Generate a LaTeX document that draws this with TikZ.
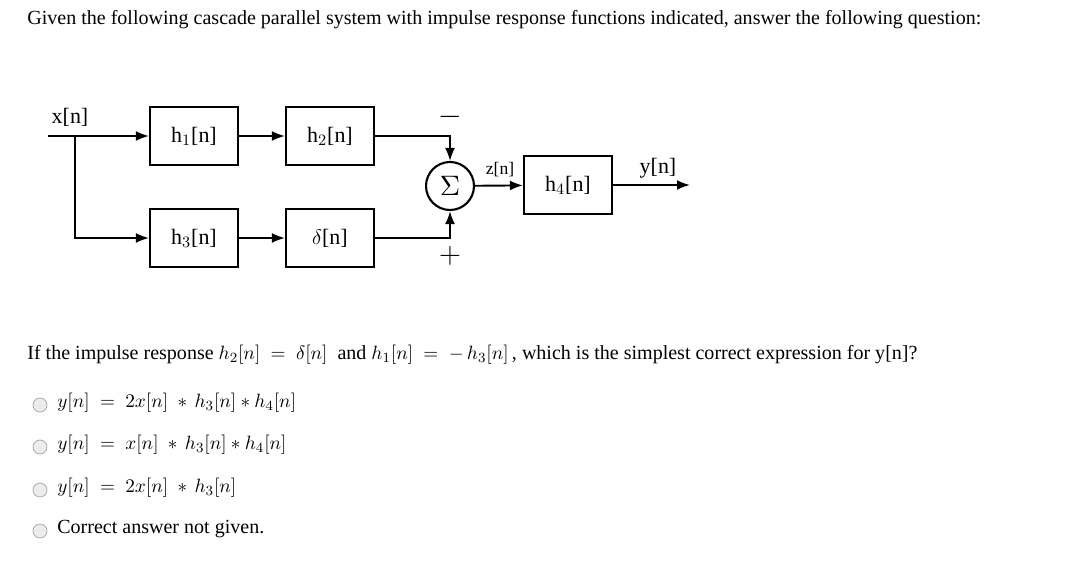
\documentclass[tikz,border=0pt]{standalone}
\usepackage{fontspec}
\setmainfont{Liberation Serif}
\usepackage{tikz}
\usetikzlibrary{arrows.meta,positioning}
\tikzset{
  blk/.style={draw, line width=1.2pt, minimum width=1.76cm, minimum height=1.16cm, font=\fontsize{12.5}{14}\selectfont},
  sig/.style={line width=1.1pt, -{Latex[length=2.6mm,width=2mm]}},
  radio/.style={circle, draw=gray!70, fill=gray!15, minimum size=0.28cm, inner sep=0pt},
  txt/.style={anchor=west, inner sep=0pt, font=\fontsize{11.4}{13}\selectfont}
}
\begin{document}
\begin{tikzpicture}[x=0.02cm,y=-0.02cm]
\useasboundingbox (0,0) rectangle (1071,564);

\node[txt] (q0) at (27,20) {Given the following cascade parallel system with impulse response functions indicated, answer the following question:};

% blocks
\node[blk] (h1) at (194,136) {h$_1$[n]};
\node[blk] (h2) at (330,136) {h$_2$[n]};
\node[blk] (h3) at (194,238) {h$_3$[n]};
\node[blk] (d)  at (330,238) {$\delta$[n]};
\node[blk] (h4) at (568,185) {h$_4$[n]};
\node[draw, line width=1.2pt, circle, minimum size=0.96cm, inner sep=0pt] (s) at (450,186) {\scalebox{1.6}{$\Sigma$}};

\coordinate (in) at (48,136);
\coordinate (br) at (75,136);
\coordinate (out) at (690,185);

\draw[line width=1.1pt] (in) -- (br);
\draw[sig] (br) -- (h1);
\draw[sig] (br) |- (h3);
\draw[sig] (h1) -- (h2);
\draw[sig] (h3) -- (d);
\draw[sig] (h2.east) -| (s.north);
\draw[sig] (d.east) -| (s.south);
\draw[sig] (s) -- (h4);
\draw[sig] (h4) -- (out);

\node[font=\fontsize{12.5}{14}\selectfont] (lx) at (70,117) {x[n]};
\node[font=\fontsize{16}{18}\selectfont] (lm) at (450,117) {$-$};
\node[font=\fontsize{16}{18}\selectfont] (lp) at (450,256) {$+$};
\node[font=\fontsize{10}{12}\selectfont] (lz) at (500,170) {z[n]};
\node[font=\fontsize{12.5}{14}\selectfont] (ly) at (658,168) {y[n]};

% question
\node[txt] (q1) at (27,355) {If the impulse response $h_2[n]\ =\ \delta[n]$\ \ and $h_1[n]\ =\ -\,h_3[n]$\,, which is the simplest correct expression for y[n]?};
\foreach \yy/\tt in {405/{$y[n]\ =\ 2x[n]\ *\,h_3[n]*h_4[n]$},
                     447/{$y[n]\ =\ x[n]\ *\,h_3[n]*h_4[n]$},
                     490/{$y[n]\ =\ 2x[n]\ *\,h_3[n]$},
                     531/{Correct answer not given.}}
{
  \node[radio] at (40,\yy) {};
  \node[txt] at (57,\yy-2) {\tt};
}
\end{tikzpicture}
\end{document}
